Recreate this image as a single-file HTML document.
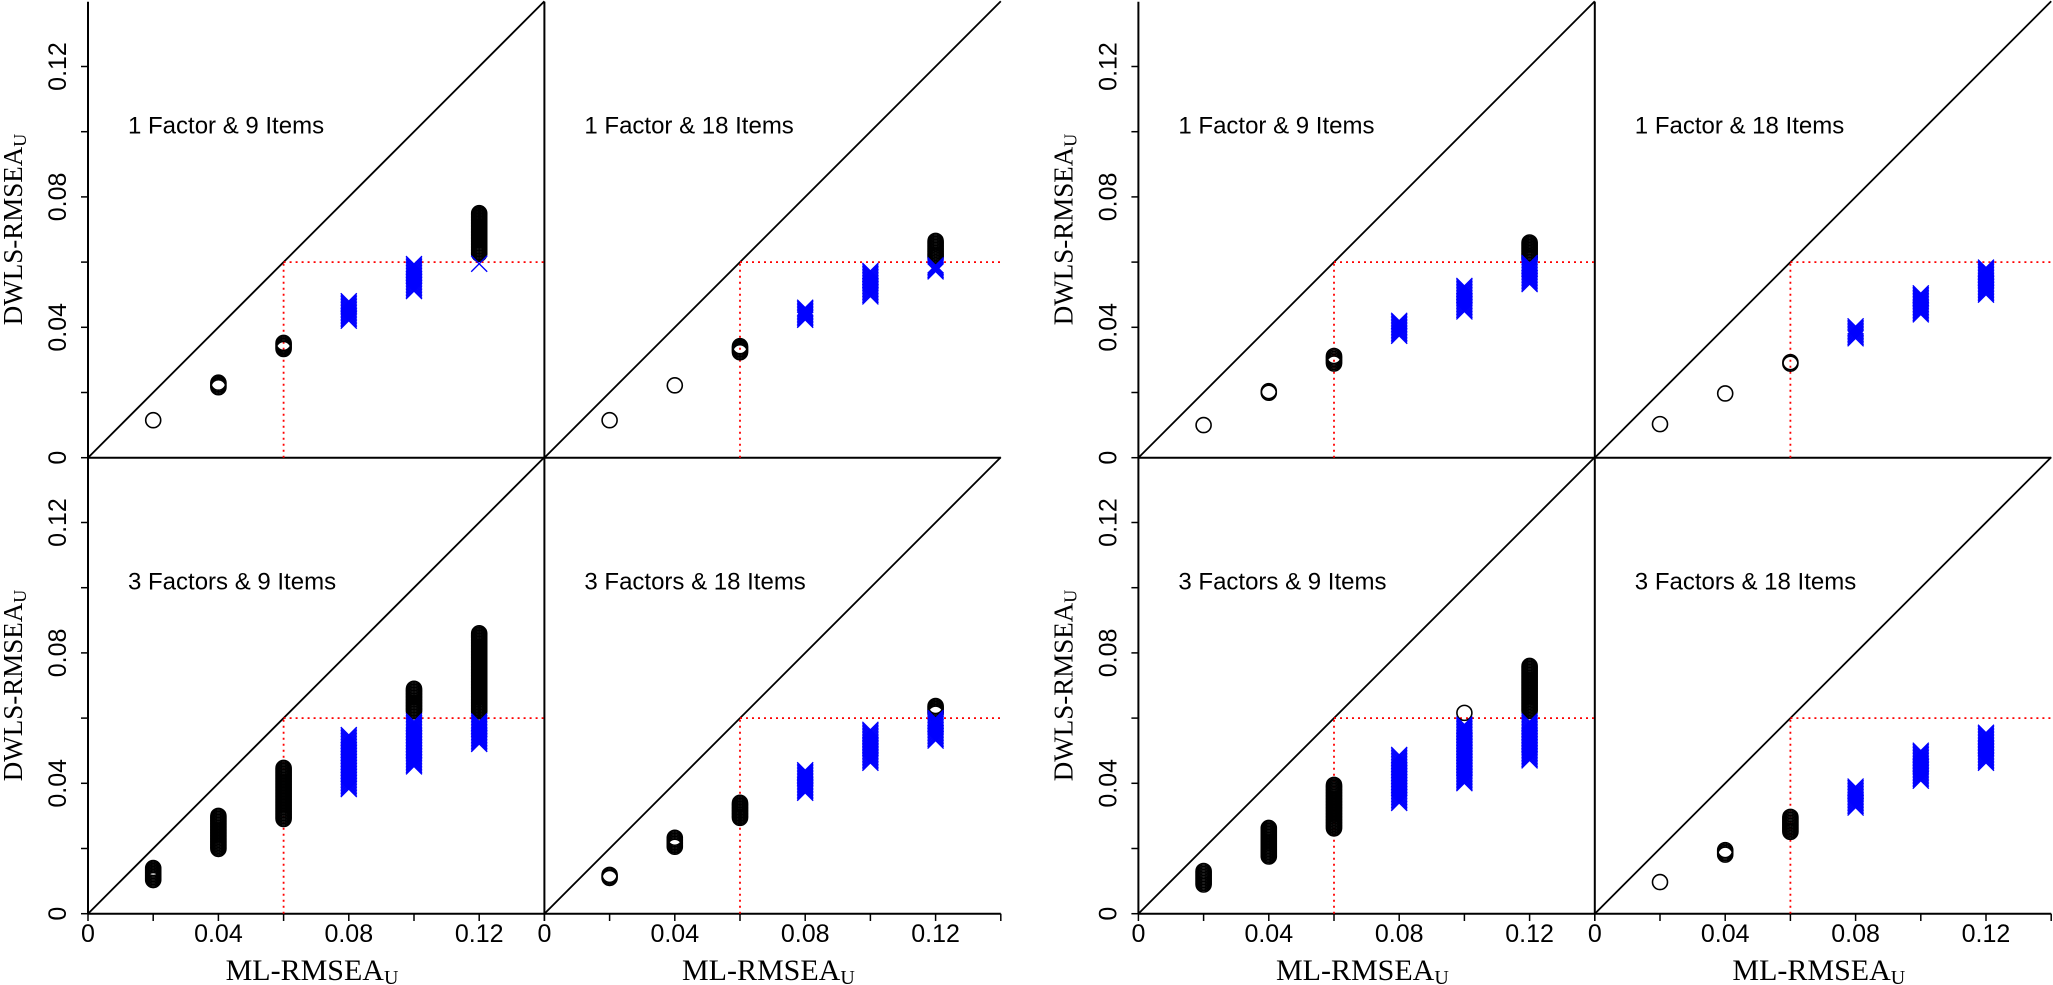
<!DOCTYPE html>
<html><head><meta charset="utf-8">
<style>
html,body{margin:0;padding:0;background:#fff;}
svg{display:block;}
</style></head>
<body>
<svg id="s" width="2053" height="985" viewBox="0 0 2053 985" xmlns="http://www.w3.org/2000/svg"></svg>
<script>
const S=3260, W=456.4, NS="http://www.w3.org/2000/svg";
const svg=document.getElementById('s');
let out='';
const blocks=[88,1138.4];
const rows=[457.7,913.7];
const data=[
 // left block
 [
  ["1 Factor & 9 Items",[[.02,'c',.0115,.0115],[.04,'c',.0215,.023],[.06,'c',.033,.0352],[.08,'x',.042,.048],[.10,'x',.0508,.0594],[.12,'x',.0595,.0595],[.12,'c',.0625,.075]]],
  ["1 Factor & 18 Items",[[.02,'c',.0115,.0115],[.04,'c',.022,.0222],[.06,'c',.0323,.0342],[.08,'x',.042,.046],[.10,'x',.0493,.0573],[.12,'x',.057,.059],[.12,'c',.061,.0665]]],
  ["3 Factors & 9 Items",[[.02,'c',.0103,.014],[.04,'c',.0196,.030],[.06,'c',.029,.0447],[.08,'x',.038,.0548],[.10,'c',.0618,.069],[.10,'x',.045,.059],[.12,'c',.0618,.086],[.12,'x',.052,.059]]],
  ["3 Factors & 18 Items",[[.02,'c',.0107,.0119],[.04,'c',.0205,.0233],[.06,'c',.029,.034],[.08,'x',.0367,.044],[.10,'x',.046,.0564],[.12,'c',.061,.0637],[.12,'x',.0527,.060]]]
 ],
 // right block
 [
  ["1 Factor & 9 Items",[[.02,'c',.010,.010],[.04,'c',.0195,.0204],[.06,'c',.0288,.0312],[.08,'x',.037,.042],[.10,'x',.0447,.0527],[.12,'c',.0607,.066],[.12,'x',.053,.0597]]],
  ["1 Factor & 18 Items",[[.02,'c',.0103,.0103],[.04,'c',.0197,.0197],[.06,'c',.0288,.0293],[.08,'x',.0363,.0403],[.10,'x',.0437,.0504],[.12,'x',.050,.0583]]],
  ["3 Factors & 9 Items",[[.02,'c',.0088,.0131],[.04,'c',.0174,.0263],[.06,'c',.0257,.0395],[.08,'x',.0337,.0487],[.10,'c',.0616,.0616],[.10,'x',.0398,.058],[.12,'c',.0618,.076],[.12,'x',.0466,.059]]],
  ["3 Factors & 18 Items",[[.02,'c',.0097,.0097],[.04,'c',.018,.0195],[.06,'c',.025,.0297],[.08,'x',.0324,.039],[.10,'x',.0405,.050],[.12,'x',.046,.0555]]]
 ]
];
const F='font-family="Liberation Sans, Arial, sans-serif"';
const FS='font-family="Liberation Serif, Times New Roman, serif"';
blocks.forEach((x0,bi)=>{
  // axes frame lines
  out+=`<line x1="${x0}" y1="1.7" x2="${x0}" y2="913.7" stroke="#000" stroke-width="2"/>`;
  out+=`<line x1="${x0+W}" y1="1.7" x2="${x0+W}" y2="913.7" stroke="#000" stroke-width="2"/>`;
  out+=`<line x1="${x0}" y1="457.7" x2="${x0+2*W}" y2="457.7" stroke="#000" stroke-width="2"/>`;
  out+=`<line x1="${x0}" y1="913.7" x2="${x0+2*W}" y2="913.7" stroke="#000" stroke-width="2"/>`;
  rows.forEach((yb,ri)=>{
    // y ticks & labels
    for(let v=0;v<=0.1201;v+=0.02){
      const y=yb-v*S;
      out+=`<line x1="${x0-7}" y1="${y}" x2="${x0}" y2="${y}" stroke="#000" stroke-width="1.5"/>`;
    }
    [0,0.04,0.08,0.12].forEach(v=>{
      const y=yb-v*S;
      const t=v===0?'0':v.toFixed(2);
      out+=`<text x="0" y="0" transform="translate(${x0-22},${y}) rotate(-90)" text-anchor="middle" font-size="25" ${F}>${t}</text>`;
    });
    // y title
    const yc=yb-0.07*S;
    out+=`<text transform="translate(${x0-66},${yc}) rotate(-90)" text-anchor="middle" font-size="27" ${FS}>DWLS-RMSEA<tspan font-size="18" dy="4">U</tspan></text>`;
    for(let pi=0;pi<2;pi++){
      const px=x0+pi*W;
      const [title,pts]=data[bi][ri*2+pi];
      // diagonal
      out+=`<line x1="${px}" y1="${yb}" x2="${px+W}" y2="${yb-W}" stroke="#000" stroke-width="1.8"/>`;
      // red dotted
      out+=`<line x1="${px+0.06*S}" y1="${yb}" x2="${px+0.06*S}" y2="${yb-0.06*S}" stroke="#f00" stroke-width="1.8" stroke-dasharray="2,4"/>`;
      out+=`<line x1="${px+0.06*S}" y1="${yb-0.06*S}" x2="${px+W}" y2="${yb-0.06*S}" stroke="#f00" stroke-width="1.8" stroke-dasharray="2,4"/>`;
      // title
      out+=`<text x="${px+40}" y="${yb-324}" font-size="24" ${F}>${title.replace('&','&amp;')}</text>`;
      // points: circles first then X
      ['c','x'].forEach(type=>{
        pts.filter(p=>p[1]===type).forEach(p=>{
          const cx=px+p[0]*S;
          const y1=yb-p[3]*S, y2=yb-p[2]*S;
          for(let y=y1;y<=y2+0.01;y+=1.5){
            if(type==='c') out+=`<circle cx="${cx}" cy="${y}" r="7.5" fill="none" stroke="#000" stroke-width="1.6"/>`;
            else out+=`<path d="M${cx-8} ${y-8}L${cx+8} ${y+8}M${cx-8} ${y+8}L${cx+8} ${y-8}" stroke="#0000ff" stroke-width="1.3"/>`;
          }
        });
      });
      if(ri===1){
        for(let v=0;v<=0.1401;v+=0.02){
          const x=px+v*S;
          out+=`<line x1="${x}" y1="913.7" x2="${x}" y2="921" stroke="#000" stroke-width="1.5"/>`;
        }
        [0,0.04,0.08,0.12].forEach(v=>{
          const t=v===0?'0':v.toFixed(2);
          out+=`<text x="${px+v*S}" y="942" text-anchor="middle" font-size="25" ${F}>${t}</text>`;
        });
        out+=`<text x="${px+224}" y="980" text-anchor="middle" font-size="30" ${FS}>ML-RMSEA<tspan font-size="20" dy="4">U</tspan></text>`;
      }
    }
  });
});
svg.innerHTML=out;
</script>
</body></html>
